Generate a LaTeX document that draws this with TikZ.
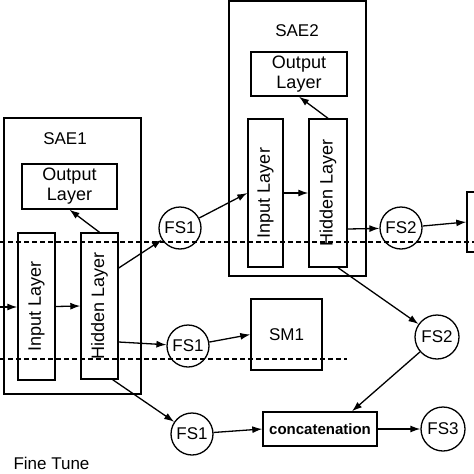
\documentclass[tikz,border=0pt]{standalone}
\usepackage{fontspec}
\setmainfont{Liberation Sans}
\usetikzlibrary{arrows.meta}
\begin{document}
\begin{tikzpicture}[x=1pt,y=-1pt,
  box/.style={draw,line width=1.4pt,inner sep=0pt,anchor=center},
  layer/.style={box,font=\fontsize{18}{20}\selectfont,align=center},
  fs/.style={draw,circle,line width=1.3pt,minimum size=42pt,inner sep=0pt,font=\fontsize{17}{18}\selectfont},
  arr/.style={line width=1.3pt,-{Latex[length=10pt,width=7pt]}},
  dsh/.style={line width=1.3pt,dash pattern=on 5pt off 3pt},
  lbl/.style={font=\fontsize{17}{18}\selectfont}]
\useasboundingbox (0,0) rectangle (474,474);
\clip (0,0) rectangle (474,474);
% SAE1
\node[box,minimum width=137pt,minimum height=276pt] (SAE1) at (72.5,256) {};
\node[lbl] (t1) at (65,139) {SAE1};
\node[layer,minimum width=95pt,minimum height=45pt] (Out1) at (69.5,186.5) {Output\\Layer};
\node[layer,minimum width=37pt,minimum height=147pt] (In1) at (36.5,306.5) {};
\node[font=\fontsize{18}{19}\selectfont,rotate=90] at (In1) {Input Layer};
\node[layer,minimum width=37pt,minimum height=146pt] (Hid1) at (99.5,306) {};
\node[font=\fontsize{18}{19}\selectfont,rotate=90] at (Hid1) {Hidden Layer};
% SAE2
\node[box,minimum width=137pt,minimum height=275pt] (SAE2) at (297.5,138.5) {};
\node[lbl] (t2) at (297,31) {SAE2};
\node[layer,minimum width=96pt,minimum height=44pt] (Out2) at (299,74) {Output\\Layer};
\node[layer,minimum width=35pt,minimum height=148pt] (In2) at (265.5,193) {};
\node[font=\fontsize{18}{19}\selectfont,rotate=90] at (In2) {Input Layer};
\node[layer,minimum width=38pt,minimum height=148pt] (Hid2) at (328,193) {};
\node[font=\fontsize{18}{19}\selectfont,rotate=90] at (Hid2) {Hidden Layer};
% other boxes
\node[box,minimum width=71pt,minimum height=71pt,font=\fontsize{17}{18}\selectfont] (SM1) at (286.5,334.5) {SM1};
\node[box,minimum width=114pt,minimum height=34pt,font=\fontsize{15}{16}\selectfont\bfseries] (cat) at (320,429) {concatenation};
\node[box,minimum width=23pt,minimum height=60pt] (RB) at (478.5,222) {};
% circles
\node[fs] (FS1a) at (180,228) {FS1};
\node[fs] (FS1b) at (188,346) {FS1};
\node[fs] (FS1c) at (192,434) {FS1};
\node[fs] (FS2a) at (401,228) {FS2};
\node[fs,minimum size=44pt] (FS2b) at (437,337) {FS2};
\node[fs,minimum size=44pt] (FS3) at (443,429) {FS3};
% text
\node[lbl,anchor=west] (ft) at (10,463) {Fine Tune};
% dashed lines
\coordinate (d1a) at (0,242);
\coordinate (d1b) at (474,242);
\coordinate (d2a) at (0,359);
\coordinate (d2b) at (347,359);
\draw[dsh] (d1a) -- (d1b);
\draw[dsh] (d2a) -- (d2b);
% arrows
\coordinate (inL) at (0,307);
\draw[arr] (inL) -- (inL -| In1.west);
\draw[arr] (In1.east) -- (Hid1.west);
\draw[arr] (Hid1.north) -- (Out1.south);
\draw[arr] ([yshift=38pt]Hid1.east) -- (FS1a);
\draw[arr] ([yshift=-36pt]Hid1.east) -- (FS1b);
\draw[arr] ([xshift=-6pt]Hid1.south east) -- (FS1c);
\draw[arr] (FS1a) -- (In2.west);
\draw[arr] (In2.east) -- (Hid2.west);
\draw[arr] (Hid2.north) -- (Out2.south);
\draw[arr] ([yshift=-36pt]Hid2.east) -- (FS2a);
\draw[arr] (FS2a) -- (RB.west);
\draw[arr] ([xshift=10pt]Hid2.south) -- (FS2b);
\draw[arr] (FS2b) -- ([xshift=32pt]cat.north);
\draw[arr] (FS1b) -- (SM1.west);
\draw[arr] (FS1c) -- (cat.west);
\draw[arr] (cat.east) -- (FS3);
\end{tikzpicture}
\end{document}
